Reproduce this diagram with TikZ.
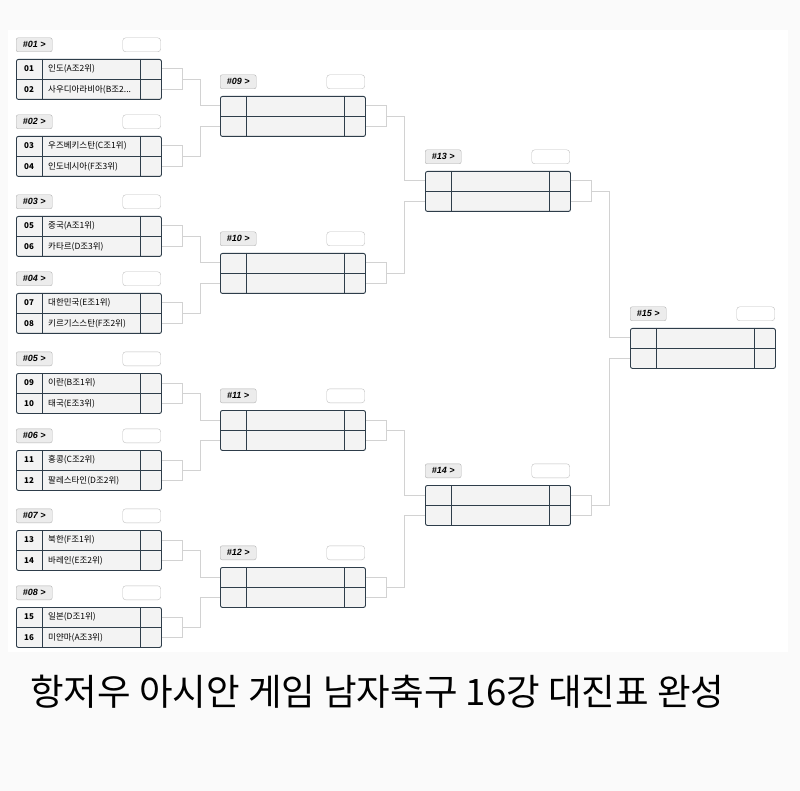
\documentclass[tikz,border=0pt]{standalone}
\usepackage{fontspec}
\setmainfont{Noto Sans CJK KR}
\setsansfont{Liberation Sans}
\usetikzlibrary{positioning}
\definecolor{frame}{HTML}{2E3D4A}
\definecolor{cell}{HTML}{F3F3F3}
\definecolor{wire}{HTML}{D2D2D2}
\definecolor{page}{HTML}{FAFAFA}
\tikzset{%
  % Specifications for style of nodes:
      matchbox/.style = {rectangle, rounded corners=2pt, draw=frame, line width=0.9pt,
                         fill=cell, minimum width=145pt, minimum height=40pt,
                         inner sep=0pt, anchor=north west},
        tagbox/.style = {rectangle, rounded corners=2pt, draw=gray!60, fill=gray!15,
                         minimum width=36pt, minimum height=14pt, inner sep=1pt,
                         font=\sffamily\bfseries\itshape\fontsize{9}{9}\selectfont},
      scorebox/.style = {rectangle, rounded corners=3pt, draw=gray!50, fill=white,
                         minimum width=38pt, minimum height=14pt, inner sep=0pt},
       rowline/.style = {draw=frame, line width=0.8pt},
          link/.style = {draw=wire, line width=1pt},
       numtext/.style = {font=\bfseries\fontsize{8}{8}\selectfont},
      teamtext/.style = {anchor=west, inner sep=0pt, font=\fontsize{8.5}{9}\selectfont},
}
\newcommand{\matchbox}[4]{% name, x, y, tag
  \node[matchbox] (#1) at (#2,#3) {};
  \draw[rowline] (#1.west) -- (#1.east);
  \draw[rowline] ([xshift=26pt]#1.north west) -- ([xshift=26pt]#1.south west);
  \draw[rowline] ([xshift=-22pt]#1.north east) -- ([xshift=-22pt]#1.south east);
  \node[tagbox, anchor=south west] (#1-tag) at ([yshift=7pt]#1.north west) {#4};
  \node[scorebox, anchor=south east] (#1-score) at ([yshift=7pt,xshift=-1pt]#1.north east) {};
  \coordinate (#1-a) at ([yshift=-10pt]#1.north east);
  \coordinate (#1-b) at ([yshift=10pt]#1.south east);
  \coordinate (#1-in1) at ([yshift=-10pt]#1.north west);
  \coordinate (#1-in2) at ([yshift=10pt]#1.south west);
}
\newcommand{\teams}[5]{% match, num1, team1, num2, team2
  \node[numtext] at ([xshift=13pt]#1-in1) {#2};
  \node[numtext] at ([xshift=13pt]#1-in2) {#4};
  \node[teamtext] at ([xshift=32pt]#1-in1) {#3};
  \node[teamtext] at ([xshift=32pt]#1-in2) {#5};
}
\newcommand{\feed}[3]{% from match, to match, to row
  \draw[link] (#1-a) -- ++(21pt,0) |- (#1-b);
  \draw[link] ([xshift=21pt]#1.east) -- ++(18pt,0) |- (#2-#3);
}

\begin{document}
\begin{tikzpicture}[x=1pt, y=-1pt]
  \fill[page] (0,0) rectangle (800,791);
  \useasboundingbox (0,0) rectangle (800,791);
  \fill[white] (8,30) rectangle (788,652);

  % round of 16
  \matchbox{m01}{16}{59}{\#01 >}
  \matchbox{m02}{16}{136}{\#02 >}
  \matchbox{m03}{16}{216}{\#03 >}
  \matchbox{m04}{16}{293}{\#04 >}
  \matchbox{m05}{16}{373}{\#05 >}
  \matchbox{m06}{16}{450}{\#06 >}
  \matchbox{m07}{16}{530}{\#07 >}
  \matchbox{m08}{16}{607}{\#08 >}
  \teams{m01}{01}{인도(A조2위)}{02}{사우디아라비아(B조2...}
  \teams{m02}{03}{우즈베키스탄(C조1위)}{04}{인도네시아(F조3위)}
  \teams{m03}{05}{중국(A조1위)}{06}{카타르(D조3위)}
  \teams{m04}{07}{대한민국(E조1위)}{08}{키르기스스탄(F조2위)}
  \teams{m05}{09}{이란(B조1위)}{10}{태국(E조3위)}
  \teams{m06}{11}{홍콩(C조2위)}{12}{팔레스타인(D조2위)}
  \teams{m07}{13}{북한(F조1위)}{14}{바레인(E조2위)}
  \teams{m08}{15}{일본(D조1위)}{16}{미얀마(A조3위)}

  % later rounds
  \matchbox{m09}{220}{96}{\#09 >}
  \matchbox{m10}{220}{253}{\#10 >}
  \matchbox{m11}{220}{410}{\#11 >}
  \matchbox{m12}{220}{567}{\#12 >}
  \matchbox{m13}{425}{171}{\#13 >}
  \matchbox{m14}{425}{485}{\#14 >}
  \matchbox{m15}{630}{328}{\#15 >}

  \feed{m01}{m09}{in1} \feed{m02}{m09}{in2}
  \feed{m03}{m10}{in1} \feed{m04}{m10}{in2}
  \feed{m05}{m11}{in1} \feed{m06}{m11}{in2}
  \feed{m07}{m12}{in1} \feed{m08}{m12}{in2}
  \feed{m09}{m13}{in1} \feed{m10}{m13}{in2}
  \feed{m11}{m14}{in1} \feed{m12}{m14}{in2}
  \feed{m13}{m15}{in1} \feed{m14}{m15}{in2}

  \node (title) [anchor=base west, inner sep=0pt, font=\fontsize{36.5}{37}\selectfont]
    at (30,705) {항저우 아시안 게임 남자축구 16강 대진표 완성};
\end{tikzpicture}
\end{document}
